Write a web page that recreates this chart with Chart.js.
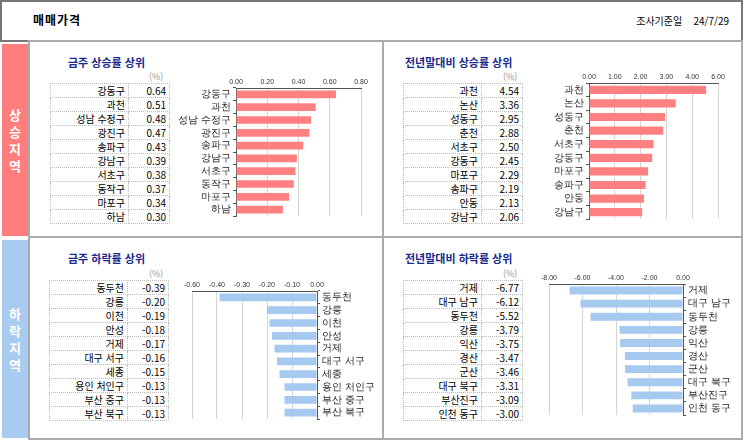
<!DOCTYPE html>
<html lang="ko">
<head>
<meta charset="UTF-8">
<title>매매가격</title>
<script src="https://cdn.jsdelivr.net/npm/chart.js@4.4.0/dist/chart.umd.min.js"></script>
<style>
  body { margin: 0; width: 743px; height: 440px; position: relative; background: #fff; overflow: hidden;
         font-family: "Noto Sans CJK KR", "Noto Sans", sans-serif; }
  .abs { position: absolute; }
  .header { left: 0; top: 0; width: 739px; height: 38px; border: 2px solid #777; }
  .header .t { position: absolute; left: 31px; top: 9px; font-size: 12px; font-weight: bold; letter-spacing: 1px; }
  .header .d { position: absolute; right: 12px; top: 11px; font-size: 10px; }
  .side { left: 2px; width: 26px; color: #fff; font-size: 13px; font-weight: bold; text-align: center; line-height: 17px;
          display: flex; align-items: center; justify-content: center; }
  .panel { border: 2px solid #aaa; }
  .ttl { font-size: 11px; font-weight: bold; color: #1a2a8c; }
  .pct { font-size: 9px; color: #999; }
  table { position: absolute; border-collapse: collapse; font-size: 10px; }
  td { border: 1px dotted #bbb; padding: 0 3px; text-align: right; height: 13px; line-height: 13px; }
  .box { position: absolute; }
</style>
</head>
<body>
<div class="abs header"><div class="t">매매가격</div><div class="d">조사기준일&nbsp;&nbsp;&nbsp;&nbsp;24/7/29</div></div>
<div class="abs side" style="top:44px;height:192px;background:#ff7d7d;">상<br>승<br>지<br>역</div>
<div class="abs side" style="top:240px;height:198px;background:#a9cbf0;">하<br>락<br>지<br>역</div>
<div class="abs panel" style="left:28px;top:40px;width:352px;height:194px;"></div>
<div class="abs panel" style="left:382px;top:40px;width:357px;height:194px;"></div>
<div class="abs panel" style="left:28px;top:236px;width:352px;height:200px;"></div>
<div class="abs panel" style="left:382px;top:236px;width:357px;height:200px;"></div>

<div class="abs ttl" style="left:68px;top:54px;">금주 상승률 상위</div>
<div class="abs ttl" style="left:405px;top:54px;">전년말대비 상승률 상위</div>
<div class="abs ttl" style="left:68px;top:250px;">금주 하락률 상위</div>
<div class="abs ttl" style="left:405px;top:250px;">전년말대비 하락률 상위</div>
<div class="abs pct" style="left:149px;top:70px;">(%)</div>
<div class="abs pct" style="left:503px;top:70px;">(%)</div>
<div class="abs pct" style="left:149px;top:267px;">(%)</div>
<div class="abs pct" style="left:503px;top:267px;">(%)</div>

<table id="t1" style="left:50px;top:83px;"></table>
<table id="t2" style="left:403px;top:83px;"></table>
<table id="t3" style="left:49px;top:280px;"></table>
<table id="t4" style="left:403px;top:280px;"></table>

<div class="box" id="b1"><canvas id="c1"></canvas></div>
<div class="box" id="b2"><canvas id="c2"></canvas></div>
<div class="box" id="b3"><canvas id="c3"></canvas></div>
<div class="box" id="b4"><canvas id="c4"></canvas></div>

<script>
// 금주 상승률 상위
const weekUpNames = ['강동구', '과천', '성남 수정구', '광진구', '송파구', '강남구', '서초구', '동작구', '마포구', '하남'];
const weekUpValues = [0.64, 0.51, 0.48, 0.47, 0.43, 0.39, 0.38, 0.37, 0.34, 0.30];
const weekUpTicks = ['0.00', '0.20', '0.40', '0.60', '0.80'];

// 전년말대비 상승률 상위
const yearUpNames = ['과천', '논산', '성동구', '춘천', '서초구', '강동구', '마포구', '송파구', '안동', '강남구'];
const yearUpValues = [4.54, 3.36, 2.95, 2.88, 2.50, 2.45, 2.29, 2.19, 2.13, 2.06];
const yearUpTicks = ['0.00', '1.00', '2.00', '3.00', '4.00', '6.00'];

// 금주 하락률 상위
const weekDownNames = ['동두천', '강릉', '이천', '안성', '거제', '대구 서구', '세종', '용인 처인구', '부산 중구', '부산 북구'];
const weekDownValues = [-0.39, -0.20, -0.19, -0.18, -0.17, -0.16, -0.15, -0.13, -0.13, -0.13];
const weekDownTicks = ['-0.60', '-0.40', '-0.30', '-0.20', '-0.10', '0.00'];

// 전년말대비 하락률 상위
const yearDownNames = ['거제', '대구 남구', '동두천', '강릉', '익산', '경산', '군산', '대구 북구', '부산진구', '인천 동구'];
const yearDownValues = [-6.77, -6.12, -5.52, -3.79, -3.75, -3.47, -3.46, -3.31, -3.09, -3.00];
const yearDownTicks = ['-8.00', '-6.00', '-4.00', '-2.00', '0.00'];

const RED = '#ff8080';
const BLUE = '#a6c9f0';

function fillTable(id, names, values) {
  const t = document.getElementById(id);
  t.innerHTML = names.map((n, i) =>
    `<tr><td style="width:71px">${n}</td><td style="width:34px">${values[i].toFixed(2)}</td></tr>`).join('');
}

function makeChart(id, box, plot, names, values, min, max, step, ticks, color, yPos) {
  const b = document.getElementById('b' + id);
  b.style.left = box.l + 'px'; b.style.top = box.t + 'px';
  b.style.width = box.w + 'px'; b.style.height = box.h + 'px';
  const yWidth = yPos === 'left' ? plot.l - box.l : box.l + box.w - plot.r;
  const pad = { top: 0, bottom: box.t + box.h - plot.b };
  if (yPos === 'left') { pad.right = box.l + box.w - plot.r; pad.left = 0; }
  else { pad.left = plot.l - box.l; pad.right = 0; }
  new Chart(document.getElementById('c' + id), {
    type: 'bar',
    data: { labels: names, datasets: [{ data: values, backgroundColor: color,
      barPercentage: 0.6, categoryPercentage: 1.0 }] },
    options: {
      indexAxis: 'y', responsive: true, maintainAspectRatio: false, animation: false,
      layout: { padding: pad },
      plugins: { legend: { display: false }, tooltip: { enabled: false } },
      scales: {
        x: {
          position: 'top', min: min, max: max,
          afterFit: s => { s.height = plot.t - box.t; },
          ticks: { stepSize: step, color: '#333', padding: 2, font: { size: 7 },
                   callback: (v, i) => ticks[i] },
          grid: { color: '#d4d4d4', tickLength: 0 },
          border: { color: '#555' }
        },
        y: {
          position: yPos,
          afterFit: s => { s.width = yWidth; },
          ticks: { color: '#222', padding: 2, font: { size: 10 }, autoSkip: false },
          grid: { drawOnChartArea: false, offset: true, tickLength: 3, color: '#555' },
          border: { color: '#555' }
        }
      }
    }
  });
}

fillTable('t1', weekUpNames, weekUpValues);
fillTable('t2', yearUpNames, yearUpValues);
fillTable('t3', weekDownNames, weekDownValues);
fillTable('t4', yearDownNames, yearDownValues);

makeChart(1, { l: 175, t: 72, w: 200, h: 152 }, { l: 236, r: 361, t: 88, b: 219 },
  weekUpNames, weekUpValues, 0, 0.8, 0.2, weekUpTicks, RED, 'left');
makeChart(2, { l: 530, t: 67, w: 205, h: 160 }, { l: 589, r: 718, t: 83, b: 223 },
  yearUpNames, yearUpValues, 0, 5, 1, yearUpTicks, RED, 'left');
makeChart(3, { l: 175, t: 275, w: 200, h: 152 }, { l: 192, r: 317, t: 291, b: 423 },
  weekDownNames, weekDownValues, -0.5, 0, 0.1, weekDownTicks, BLUE, 'right');
makeChart(4, { l: 530, t: 268, w: 208, h: 155 }, { l: 549, r: 683, t: 284, b: 419 },
  yearDownNames, yearDownValues, -8, 0, 2, yearDownTicks, BLUE, 'right');
</script>
</body>
</html>
